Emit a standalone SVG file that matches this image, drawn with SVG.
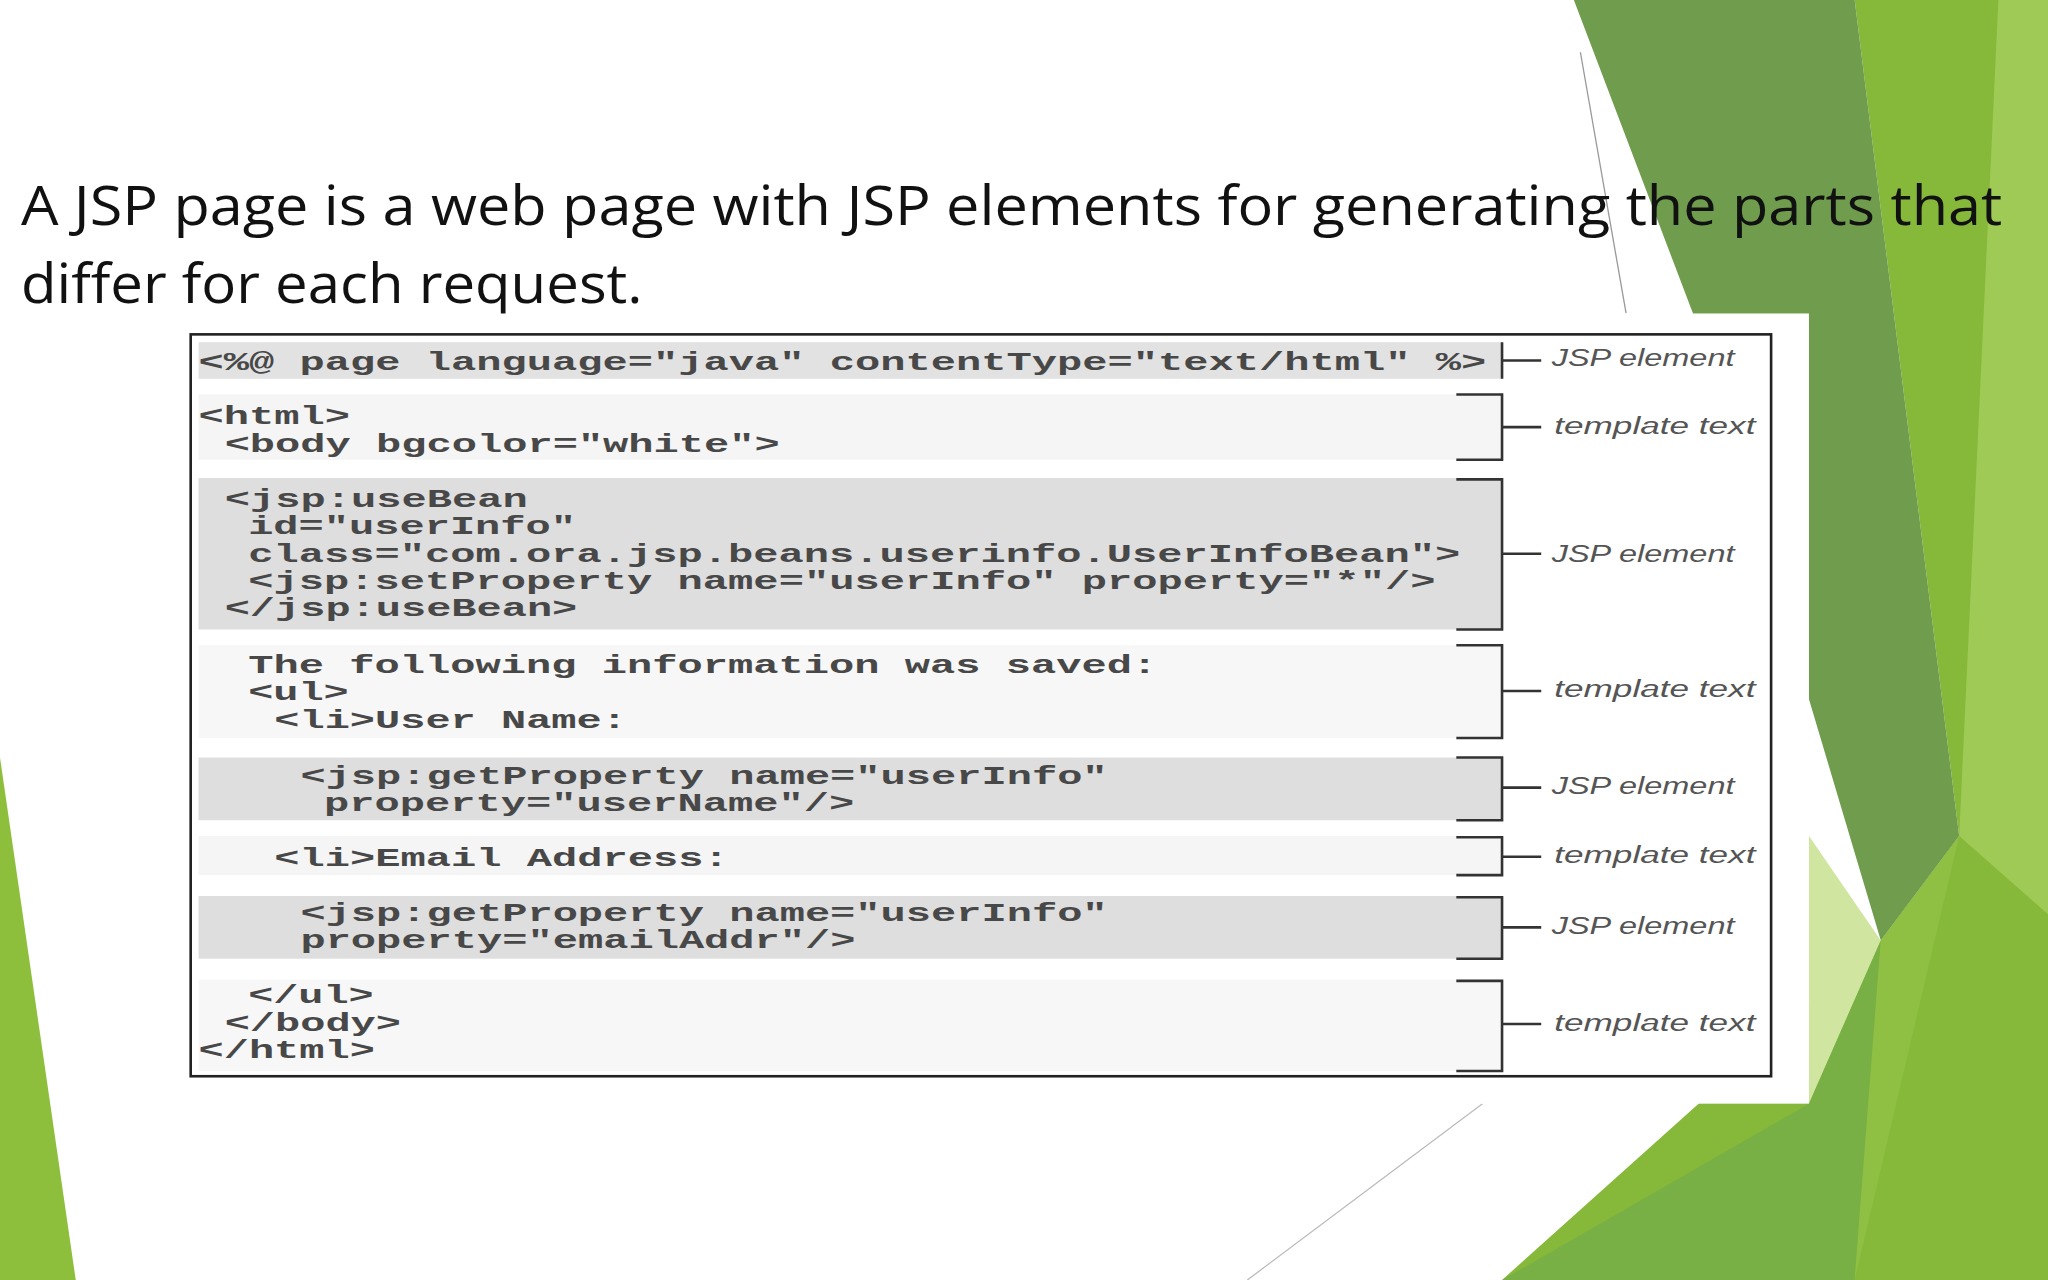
<svg xmlns="http://www.w3.org/2000/svg" width="2048" height="1280" viewBox="0 0 2048 1280">
<style>
.code{font-family:"Liberation Mono",monospace;font-weight:bold;font-size:20px;fill:#484848}
.lbl{font-family:"Liberation Sans",sans-serif;font-style:italic;font-size:19px;fill:#555}
.br{fill:none;stroke:#333;stroke-width:2}
.title{font-family:"Open Sans",sans-serif;font-size:42px;fill:#111}
</style>
<rect width="2048" height="1280" fill="#fff"/>
<g transform="scale(1.30612)">
<g id="background">
<polygon points="1420,0 1568,0 1568,980 1150,980 1440,720 1500,640" fill="#86b83a"/>
<polygon points="1205,0 1420,0 1500,640 1440,720 1300,250" fill="#709c4e"/>
<polygon points="1530,0 1568,0 1568,700 1500,640" fill="#9fca55"/>
<polygon points="1385,640 1440,720 1385,845" fill="#cfe5a0"/>
<polygon points="1150,980 1385,845 1440,720 1420,980" fill="#79b045"/>
<polygon points="1440,720 1500,640 1420,980" fill="#8fc044"/>
<polygon points="0,580 0,980 58,980" fill="#8dbf3c"/>
<line x1="1210" y1="40" x2="1245" y2="240" stroke="#999" stroke-width="1"/>
<line x1="955" y1="980" x2="1135" y2="845" stroke="#bbb" stroke-width="1"/>
</g>
<g id="title">
<text class="title" x="16" y="172" textLength="1517" lengthAdjust="spacingAndGlyphs">A JSP page is a web page with JSP elements for generating the parts that</text>
<text class="title" x="16" y="232" textLength="476" lengthAdjust="spacingAndGlyphs">differ for each request.</text>
</g>
<g id="figure">
<rect x="145" y="240" width="1240" height="605" fill="#fff"/>
<rect x="146" y="256" width="1210" height="568" fill="#fff" stroke="#222" stroke-width="2"/>
<rect x="152" y="262" width="998" height="28" fill="#e2e2e2"/>
<rect x="152" y="302" width="998" height="50" fill="#f5f5f5"/>
<rect x="152" y="366" width="998" height="116" fill="#dedede"/>
<rect x="152" y="494" width="998" height="71" fill="#f7f7f7"/>
<rect x="152" y="580" width="998" height="48" fill="#dedede"/>
<rect x="152" y="640" width="998" height="30" fill="#f5f5f5"/>
<rect x="152" y="686" width="998" height="48" fill="#dedede"/>
<rect x="152" y="750" width="998" height="70" fill="#f7f7f7"/>
</g>
<g id="code">
<text class="code" x="152" y="283" textLength="986" lengthAdjust="spacingAndGlyphs">&lt;%@ page language="java" contentType="text/html" %&gt;</text>
<text class="code" x="152" y="325" textLength="116" lengthAdjust="spacingAndGlyphs">&lt;html&gt;</text>
<text class="code" x="172" y="346" textLength="425" lengthAdjust="spacingAndGlyphs">&lt;body bgcolor="white"&gt;</text>
<text class="code" x="172" y="388" textLength="232" lengthAdjust="spacingAndGlyphs">&lt;jsp:useBean</text>
<text class="code" x="190" y="409" textLength="251" lengthAdjust="spacingAndGlyphs">id="userInfo"</text>
<text class="code" x="190" y="430" textLength="928" lengthAdjust="spacingAndGlyphs">class="com.ora.jsp.beans.userinfo.UserInfoBean"&gt;</text>
<text class="code" x="190" y="451" textLength="909" lengthAdjust="spacingAndGlyphs">&lt;jsp:setProperty name="userInfo" property="*"/&gt;</text>
<text class="code" x="172" y="472" textLength="270" lengthAdjust="spacingAndGlyphs">&lt;/jsp:useBean&gt;</text>
<text class="code" x="190" y="515" textLength="696" lengthAdjust="spacingAndGlyphs">The following information was saved:</text>
<text class="code" x="190" y="536" textLength="77" lengthAdjust="spacingAndGlyphs">&lt;ul&gt;</text>
<text class="code" x="210" y="557" textLength="270" lengthAdjust="spacingAndGlyphs">&lt;li&gt;User Name:</text>
<text class="code" x="230" y="600" textLength="618" lengthAdjust="spacingAndGlyphs">&lt;jsp:getProperty name="userInfo"</text>
<text class="code" x="248" y="621" textLength="406" lengthAdjust="spacingAndGlyphs">property="userName"/&gt;</text>
<text class="code" x="210" y="663" textLength="348" lengthAdjust="spacingAndGlyphs">&lt;li&gt;Email Address:</text>
<text class="code" x="230" y="705" textLength="618" lengthAdjust="spacingAndGlyphs">&lt;jsp:getProperty name="userInfo"</text>
<text class="code" x="230" y="726" textLength="425" lengthAdjust="spacingAndGlyphs">property="emailAddr"/&gt;</text>
<text class="code" x="190" y="768" textLength="96" lengthAdjust="spacingAndGlyphs">&lt;/ul&gt;</text>
<text class="code" x="172" y="789" textLength="135" lengthAdjust="spacingAndGlyphs">&lt;/body&gt;</text>
<text class="code" x="152" y="810" textLength="135" lengthAdjust="spacingAndGlyphs">&lt;/html&gt;</text>
</g>
<g id="connectors">
<path class="br" d="M1150,262 V290 M1150,276 H1180"/>
<path class="br" d="M1115,302 H1150 V352 H1115 M1150,327 H1180"/>
<path class="br" d="M1115,367 H1150 V482 H1115 M1150,424 H1180"/>
<path class="br" d="M1115,494 H1150 V565 H1115 M1150,529 H1180"/>
<path class="br" d="M1115,580 H1150 V628 H1115 M1150,603 H1180"/>
<path class="br" d="M1115,641 H1150 V670 H1115 M1150,656 H1180"/>
<path class="br" d="M1115,687 H1150 V734 H1115 M1150,710 H1180"/>
<path class="br" d="M1115,751 H1150 V820 H1115 M1150,784 H1180"/>
</g>
<g id="labels">
<text class="lbl" x="1188" y="280" textLength="140" lengthAdjust="spacingAndGlyphs">JSP element</text>
<text class="lbl" x="1190" y="332" textLength="154" lengthAdjust="spacingAndGlyphs">template text</text>
<text class="lbl" x="1188" y="430" textLength="140" lengthAdjust="spacingAndGlyphs">JSP element</text>
<text class="lbl" x="1190" y="534" textLength="154" lengthAdjust="spacingAndGlyphs">template text</text>
<text class="lbl" x="1188" y="608" textLength="140" lengthAdjust="spacingAndGlyphs">JSP element</text>
<text class="lbl" x="1190" y="661" textLength="154" lengthAdjust="spacingAndGlyphs">template text</text>
<text class="lbl" x="1188" y="715" textLength="140" lengthAdjust="spacingAndGlyphs">JSP element</text>
<text class="lbl" x="1190" y="789" textLength="154" lengthAdjust="spacingAndGlyphs">template text</text>
</g>
</g>
</svg>
